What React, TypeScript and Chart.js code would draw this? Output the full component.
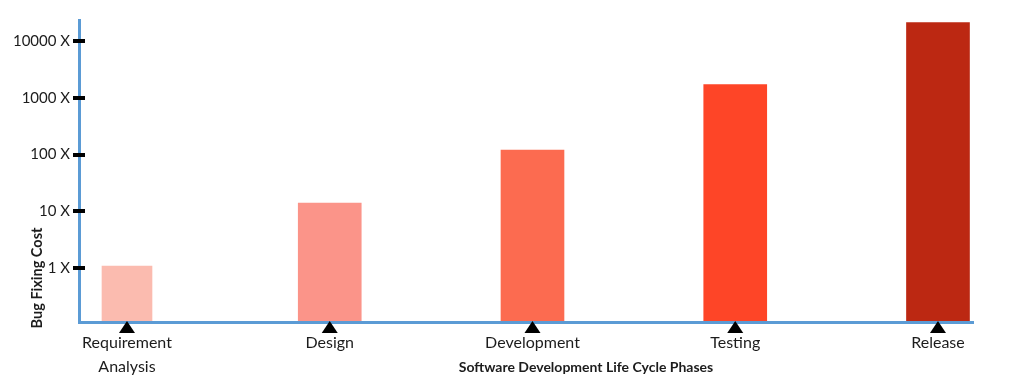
import React, { useEffect, useRef } from 'react';
import { Chart, registerables } from 'chart.js';

Chart.register(...registerables);

const categories: (string | string[])[] = [['Requirement', 'Analysis'], 'Design', 'Development', 'Testing', 'Release'];
const costValues = [1.1, 14, 120, 1700, 21000];
const yTickValues = [1, 10, 100, 1000, 10000];
const yTickLabels = ['1 X', '10 X', '100 X', '1000 X', '10000 X'];
const barColors = ['#FBBBAF', '#FB9489', '#FC6B50', '#FE4527', '#BC2812'];
const yTitle = 'Bug Fixing Cost';
const xTitle = 'Software Development Life Cycle Phases';

const AXIS_BLUE = '#5B9BD5';
const TEXT = '#1c1c1c';
const FONT = 'Lato';

const decor = {
  id: 'decor',
  afterDraw(chart: any) {
    const { ctx, chartArea, scales } = chart;
    const x = scales.x;
    const y = scales.y;
    ctx.save();
    ctx.fillStyle = '#000';
    yTickValues.forEach((v) => {
      const py = Math.round(y.getPixelForValue(v));
      ctx.fillRect(chartArea.left - 6, py - 2, 12, 4);
    });
    categories.forEach((_, i) => {
      const px = x.getPixelForValue(i);
      ctx.beginPath();
      ctx.moveTo(px, chartArea.bottom - 1);
      ctx.lineTo(px + 8, chartArea.bottom + 11);
      ctx.lineTo(px - 8, chartArea.bottom + 11);
      ctx.closePath();
      ctx.fill();
    });
    ctx.fillStyle = TEXT;
    ctx.textAlign = 'center';
    ctx.textBaseline = 'middle';
    ctx.font = `bold 14px ${FONT}`;
    ctx.fillText(xTitle, chartArea.left + 507, chartArea.bottom + 45);
    ctx.translate(chartArea.left - 42, chartArea.bottom - 44);
    ctx.rotate(-Math.PI / 2);
    ctx.font = `bold 14.5px ${FONT}`;
    ctx.fillText(yTitle, 0, 0);
    ctx.restore();
  },
};

export default function App() {
  const ref = useRef<HTMLCanvasElement | null>(null);

  useEffect(() => {
    if (!ref.current) return;
    const chart = new Chart(ref.current, {
      type: 'bar',
      data: {
        datasets: [
          {
            data: [{ x: 0, y: costValues[0] }],
            backgroundColor: barColors[0],
            barThickness: 50,
            grouped: false,
          } as any,
          {
            data: costValues.slice(1).map((v, i) => ({ x: i + 1, y: v })),
            backgroundColor: barColors.slice(1),
            barThickness: 63,
            grouped: false,
          } as any,
        ],
      },
      options: {
        animation: false,
        responsive: true,
        maintainAspectRatio: false,
        devicePixelRatio: 1,
        layout: { padding: { top: 20, right: 52, left: 0, bottom: 0 } },
        plugins: { legend: { display: false }, tooltip: { enabled: false }, title: { display: false } },
        scales: {
          x: {
            type: 'linear',
            offset: false,
            min: -0.2367,
            max: 4.1727,
            afterBuildTicks: (s: any) => {
              s.ticks = categories.map((_, i) => ({ value: i }));
            },
            afterFit: (s: any) => {
              s.height = 62;
            },
            ticks: {
              callback: (_v: any, i: number) => categories[i],
              autoSkip: false,
              maxRotation: 0,
              padding: 9,
              color: TEXT,
              font: { family: FONT, size: 16, lineHeight: 1.5 },
            },
            grid: { display: false, drawTicks: false, offset: false },
            border: { color: AXIS_BLUE, width: 3, z: 1 },
          },
          y: {
            type: 'logarithmic',
            min: 0.114,
            max: 23200,
            afterBuildTicks: (s: any) => {
              s.ticks = yTickValues.map((v) => ({ value: v }));
            },
            afterFit: (s: any) => {
              s.width = 79;
            },
            ticks: {
              callback: (_v: any, i: number) => yTickLabels[i],
              padding: 9,
              color: TEXT,
              font: { family: FONT, size: 15 },
            },
            grid: { display: false, drawTicks: false },
            border: { color: AXIS_BLUE, width: 3, z: 1 },
          },
        },
      } as any,
      plugins: [decor],
    });
    return () => chart.destroy();
  }, []);

  return (
    <div style={{ position: 'absolute', left: 0, top: 0, width: 1025, height: 384, background: '#fff' }}>
      <canvas ref={ref} />
    </div>
  );
}
